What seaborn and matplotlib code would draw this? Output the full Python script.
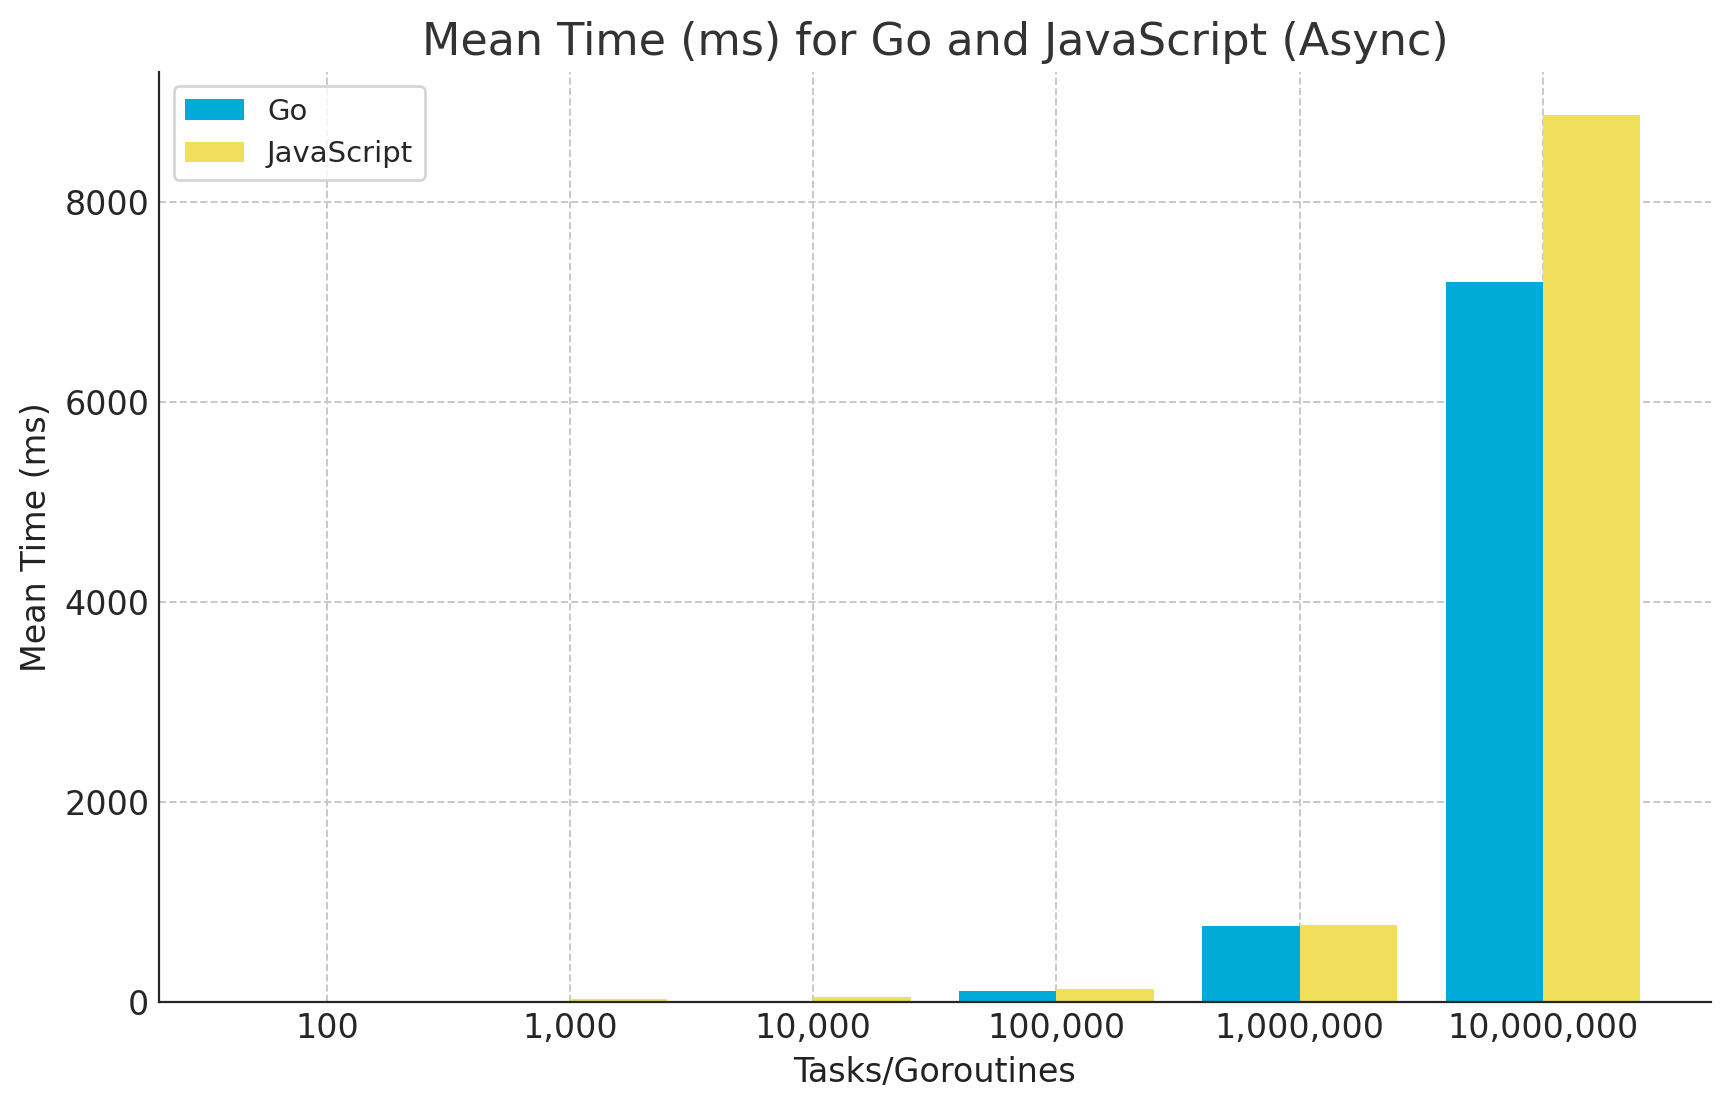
import matplotlib
matplotlib.use("Agg")
import matplotlib.pyplot as plt
import seaborn as sns
import pandas as pd

tasks = ["100", "1,000", "10,000", "100,000", "1,000,000", "10,000,000"]
go_ms = [2, 5, 10, 110, 760, 7200]
js_ms = [5, 25, 50, 125, 770, 8870]

df = pd.DataFrame({
    "Tasks": tasks * 2,
    "Time": go_ms + js_ms,
    "Language": ["Go"] * len(tasks) + ["JavaScript"] * len(tasks),
})

sns.set_style("white")
plt.rcParams['font.family'] = ['DejaVu Sans']
fig, ax = plt.subplots(figsize=(8.64, 5.505), dpi=200)
sns.barplot(data=df, x="Tasks", y="Time", hue="Language",
            palette={"Go": "#00ACD7", "JavaScript": "#F0DF5A"},
            width=0.8, saturation=1, ax=ax, zorder=2, linewidth=0)
ax.grid(True, linestyle="--", color="#c8c8c8", linewidth=0.7, zorder=0)
ax.set_axisbelow(True)
for s in ["top", "right"]:
    ax.spines[s].set_visible(False)
ax.set_title("Mean Time (ms) for Go and JavaScript (Async)", fontsize=16, color="#333333")
ax.set_xlabel("Tasks/Goroutines", fontsize=12, color="#222222")
ax.set_ylabel("Mean Time (ms)", fontsize=12, color="#222222")
ax.tick_params(labelsize=12, length=0)
ax.set_yticks([0, 2000, 4000, 6000, 8000])
ax.set_ylim(0, 9300)
ax.set_xlim(-0.69, 5.69)
ax.legend(title=None, loc="upper left", fontsize=10.5, frameon=True)
fig.subplots_adjust(left=0.092, right=0.99, top=0.935, bottom=0.09)
fig.savefig("out.png", dpi=200)
